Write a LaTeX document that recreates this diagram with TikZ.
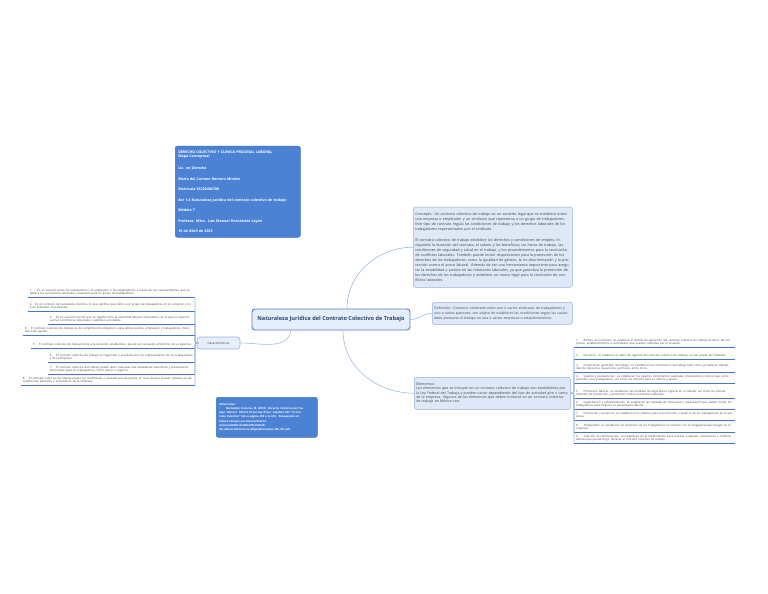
\documentclass[tikz,border=0pt]{standalone}
\usepackage{fontspec}
\setmainfont{Open Sans}
\definecolor{bluefill}{RGB}{76,130,212}
\definecolor{blueborder}{RGB}{64,112,190}
\definecolor{boxfill}{RGB}{222,232,246}
\definecolor{boxborder}{RGB}{150,178,222}
\definecolor{cenfill}{RGB}{230,238,250}
\definecolor{cenborder}{RGB}{80,125,200}
\definecolor{conncol}{RGB}{160,186,224}
\definecolor{ulcol}{RGB}{70,118,200}
\definecolor{txt}{RGB}{70,70,80}
\definecolor{centxt}{RGB}{45,70,115}
\begin{document}
\begin{tikzpicture}[x=1bp,y=-1bp,
  bbox/.style={fill=bluefill, draw=blueborder, line width=0.5bp, rounded corners=2bp, text=white,
    font=\bfseries\fontsize{3.6}{4}\selectfont, align=left, inner xsep=3bp, inner ysep=3bp},
  lbox/.style={fill=boxfill, draw=boxborder, line width=0.5bp, rounded corners=2bp, text=txt,
    font=\fontsize{3.7}{5.1}\selectfont, align=left, inner xsep=2bp, inner ysep=2.5bp},
  cenbox/.style={fill=cenfill, draw=cenborder, line width=0.9bp, rounded corners=3bp, text=centxt,
    font=\bfseries\fontsize{5.6}{7}\selectfont, minimum width=158bp, minimum height=21bp},
  cbox/.style={fill=cenfill, draw=boxborder, line width=0.6bp, rounded corners=3bp, text=txt,
    font=\fontsize{3.2}{4}\selectfont, minimum width=43bp, minimum height=12bp},
  ritem/.style={text=txt, font=\fontsize{2.9}{3.7}\selectfont, align=left, inner xsep=2bp, inner ysep=1.2bp, text width=157bp},
  litem/.style={text=txt, font=\fontsize{2.9}{3.7}\selectfont, align=left, inner xsep=2bp, inner ysep=1.2bp},
  conn/.style={draw=conncol, line width=0.6bp},
  uline/.style={draw=ulcol, line width=0.6bp}
]
\useasboundingbox (0,0) rectangle (768,594);
\fill[white] (0,0) rectangle (768,594);

% title box
\node[bbox, anchor=north west, text width=119bp, minimum height=91bp] (title) at (175,146) {%
DERECHO COLECTIVO Y CLINICA PROCESAL LABORAL\\
Mapa Conceptual\\[8.3bp]
Lic. en Derecho\\[6.5bp]
María del Carmen Romero Mireles\\[6.5bp]
Matrícula ES202406786\\[6.5bp]
Act 1.4 Naturaleza jurídica del contrato colectivo de trabajo\\[6.5bp]
Módulo 7\\[6.5bp]
Profesor: Mtro. Luis Manuel Hernández Leyón\\[6.5bp]
16 de Abril de 2023};

% central
\node[cenbox] (central) at (331,319.5) {Naturaleza Jurídica del Contrato Colectivo de Trabajo};

% concept
\node[lbox, anchor=north west, text width=155bp, minimum height=80bp] (concept) at (413,207) {%
Concepto: Un contrato colectivo de trabajo es un acuerdo legal que se establece
entre una empresa o empleador y un sindicato que representa a un grupo de
trabajadores. Este tipo de contrato regula las condiciones de trabajo y los derechos
laborales de los trabajadores representados por el sindicato.\\[5.1bp]
El contrato colectivo de trabajo establece los derechos y condiciones de empleo,
incluyendo la duración del contrato, el salario y los beneficios, las horas de trabajo,
las condiciones de seguridad y salud en el trabajo, y los procedimientos para la
resolución de conflictos laborales. También puede incluir disposiciones para la
protección de los derechos de los trabajadores, como la igualdad de género, la no
discriminación y la protección contra el acoso laboral. Además de ser una
herramienta importante para asegurar la estabilidad y justicia en las relaciones
laborales, ya que garantiza la protección de los derechos de los trabajadores y
establece un marco legal para la resolución de conflictos laborales.};

% definition
\node[lbox, anchor=north west, text width=136bp, minimum height=22bp, font=\fontsize{3.5}{4.9}\selectfont] (def) at (432,302) {%
Definición: Convenio celebrado entre uno o varios sindicatos de trabajadores y uno
o varios patrones, con objeto de establecer las condiciones según las cuales debe
prestarse el trabajo en una o varias empresas o establecimientos.};

% elementos
\node[lbox, anchor=north west, text width=152bp, minimum height=32bp, font=\fontsize{3.6}{4.4}\selectfont] (elem) at (414,377) {%
Elementos:\\
Los elementos que se incluyen en un contrato colectivo de trabajo son establecidos
por la Ley Federal del Trabajo y pueden variar dependiendo del tipo de actividad
gire a coma de la empresa. Algunos de los elementos que deben incluirse en un
contrato colectivo de trabajo en México son:};

% references
\node[bbox, anchor=north west, text width=95bp, minimum height=40bp, font=\bfseries\fontsize{2.7}{4.2}\selectfont] (refs) at (216,397) {%
Referencias:\\
•\hspace{6bp}Bermúdez Cisneros, M. (2018). Derecho Colectivo del Trabajo. México:
Oxford University Press. Capítulo XXI: "El Contrato Colectivo" (de la
página 300 a la 321). Recuperado en: https://campus.aiu.edu.mx/Visitor/\\
UnLinea/MATL/CLINIA/DELCS2023/\\
W1\_4DerechoColectivo\_MiguelBermudez\_300\_321.pdf};

% caracteristicas
\node[cbox] (carac) at (218.5,343) {Características};

% right items
\foreach \n/\y/\t in {
 r1/347/{1.\hspace{5bp}Ámbito del contrato: se establece el ámbito de aplicación del contrato colectivo de trabajo es decir, las empresas, establecimientos o actividades que quedan cubiertas por el acuerdo.},
 r2/359/{2.\hspace{5bp}Duración: se establece el plazo de vigencia del contrato colectivo de trabajo, el cual puede ser ilimitado.},
 r3/372/{3.\hspace{5bp}Condiciones generales de trabajo: se establecen las condiciones de trabajo tales como jornada de trabajo, días de descanso, vacaciones, permisos, entre otros.},
 r4/383/{4.\hspace{5bp}Salarios y prestaciones: se establecen los salarios, incrementos salariales, prestaciones y bonos que corresponden a los trabajadores, así como los criterios para su cálculo y ajuste.},
 r5/398/{5.\hspace{5bp}Protección laboral: se establecen las medidas de seguridad e higiene en el trabajo, así como los procedimientos de prevención y protección contra accidentes laborales.},
 r6/409/{6.\hspace{5bp}Capacitación y adiestramiento: se establecen las medidas de formación y capacitación que deben recibir los trabajadores para mejorar su desempeño laboral.},
 r7/420/{7.\hspace{5bp}Promoción y ascensos: se establecen los criterios para la promoción y ascenso de los trabajadores en la empresa.},
 r8/432/{8.\hspace{5bp}Antigüedad: se establecen los derechos de los trabajadores en relación con la antigüedad que tengan en la empresa.},
 r9/443/{9.\hspace{5bp}Solución de controversias: se establecen los procedimientos para resolver cualquier controversia o conflicto laboral que pueda surgir durante el contrato colectivo de trabajo.}}{
  \node[ritem, anchor=south west] (\n) at (574,\y) {\t};
  \draw[uline] (\n.south west) -- (\n.south east);
  \draw[conn, rounded corners=2bp] (elem.east) -| (\n.south west);
}

% left items
\foreach \n/\y/\w/\t in {
 l1/297/163/{1.\hspace{5bp}Es un acuerdo entre los trabajadores y el empleador o los empleadores, a través de sus representantes, que establece las condiciones laborales y salariales para un grupo de trabajadores.},
 l2/311/163/{2.\hspace{3bp}Es un contrato de naturaleza colectiva, lo que significa que cubre a un grupo de trabajadores en su conjunto y no a un individuo en particular.},
 l3/324/143/{3.\hspace{4bp}Es un acuerdo escrito que se registra ante la autoridad laboral competente, en el que se especifican las condiciones laborales y salariales acordadas.},
 l4/335/168/{4.\hspace{4bp}El contrato colectivo de trabajo es de cumplimiento obligatorio para ambas partes, empleador y trabajadores, mientras esté vigente.},
 l5/348/160/{5.\hspace{4bp}El contrato colectivo de trabajo tiene una duración establecida y puede ser renovado al término de su vigencia.},
 l6/362/143/{6.\hspace{4bp}El contrato colectivo de trabajo es negociado y acordado por los representantes de los trabajadores y de la empresa.},
 l7/374/143/{7.\hspace{4bp}El contrato colectivo del trabajo puede tener cláusulas que establezcan beneficios y prestaciones adicionales para los trabajadores, como bonos o seguros.},
 l8/385/170/{8.\hspace{4bp}El contrato colectivo de trabajo puede ser modificado o revisado por las partes, en caso de que existan cambios en las condiciones laborales o económicas de la empresa.}}{
  \node[litem, anchor=south east, text width=\w bp] (\n) at (195,\y) {\t};
  \draw[uline] (\n.south west) -- (\n.south east);
  \draw[conn, rounded corners=2bp] (carac.west) -| (\n.south east);
}

% central connectors
\draw[conn] ([xshift=16bp]central.north) to[out=90,in=180] (concept.west);
\draw[conn] (central.east) to[out=0,in=180] (def.west);
\draw[conn] ([xshift=12bp]central.south) to[out=-90,in=180] (elem.west);
\draw[conn] ([xshift=-40bp]central.south) to[out=-100,in=0] (carac.east);
\end{tikzpicture}
\end{document}
